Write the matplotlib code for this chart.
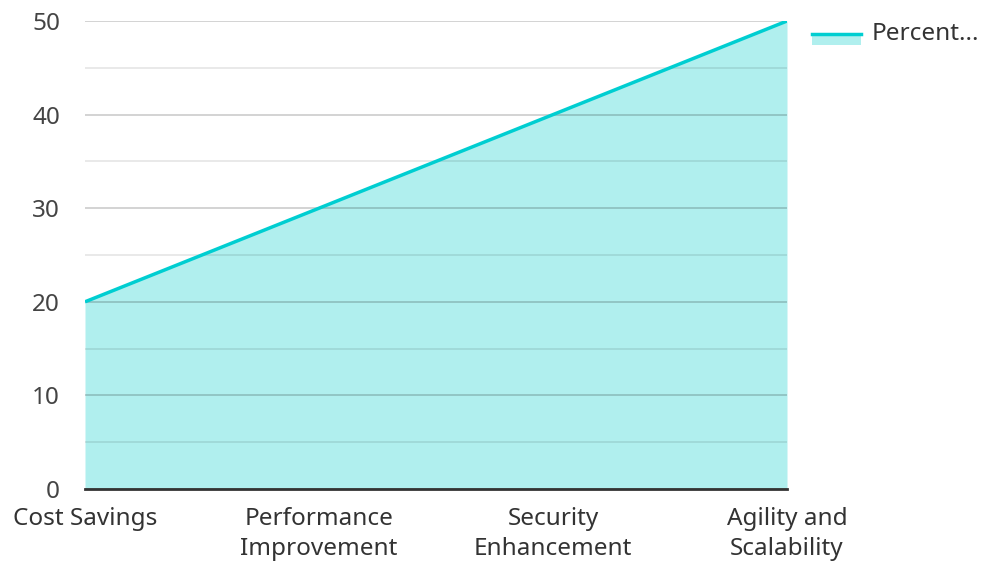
import matplotlib.pyplot as plt
from matplotlib.lines import Line2D
from matplotlib.patches import Rectangle
from matplotlib.ticker import MultipleLocator

plt.rcParams['font.family'] = ['Noto Sans', 'DejaVu Sans']

# data
categories = ["Cost Savings", "Performance\nImprovement", "Security\nEnhancement", "Agility and\nScalability"]
percent = [20, 30, 40, 50]
series_name = "Percent..."

line_color = "#00CED1"
fill_color = "#B0EFEE"
fs = 17.5

fig = plt.figure(figsize=(9.81, 5.63), dpi=100)
ax = fig.add_axes([85 / 981, 1 - 489 / 563, (787 - 85) / 981, (489 - 21) / 563])

x = list(range(len(categories)))
ax.fill_between(x, 0, percent, color=fill_color, lw=0, zorder=1)
ax.plot(x, percent, color=line_color, lw=2.5, zorder=3, solid_capstyle='butt')

ax.set_xlim(0, len(categories) - 1)
ax.set_ylim(0, 50)
ax.yaxis.set_major_locator(MultipleLocator(10))
ax.yaxis.set_minor_locator(MultipleLocator(5))
ax.grid(axis='y', which='major', color='#000000', alpha=0.2, lw=1.2, zorder=2)
ax.grid(axis='y', which='minor', color='#000000', alpha=0.1, lw=1.2, zorder=2)
ax.set_axisbelow(False)

ax.set_xticks(x)
ax.set_xticklabels(categories, fontsize=fs, color='#333333', linespacing=1.32)
ax.tick_params(axis='x', length=0, pad=13)
ax.tick_params(axis='y', which='both', length=0, pad=18, labelsize=fs, labelcolor='#444444')

for side in ['top', 'right', 'left']:
    ax.spines[side].set_visible(False)
ax.spines['bottom'].set_color('#333333')
ax.spines['bottom'].set_linewidth(2)
ax.spines['bottom'].set_zorder(4)

# legend (line over filled patch)
W, H = 981, 563
fig.add_artist(Rectangle((812 / W, 1 - 45 / H), 49 / W, 11 / H,
                         transform=fig.transFigure, color=fill_color, lw=0))
fig.add_artist(Line2D([812 / W, 861 / W], [1 - 34 / H, 1 - 34 / H],
                      transform=fig.transFigure, color=line_color, lw=2.5))
fig.text(872 / W, 1 - 34 / H, series_name, fontsize=fs, color='#333333', va='center', ha='left')

fig.savefig("out.png", dpi=100)
